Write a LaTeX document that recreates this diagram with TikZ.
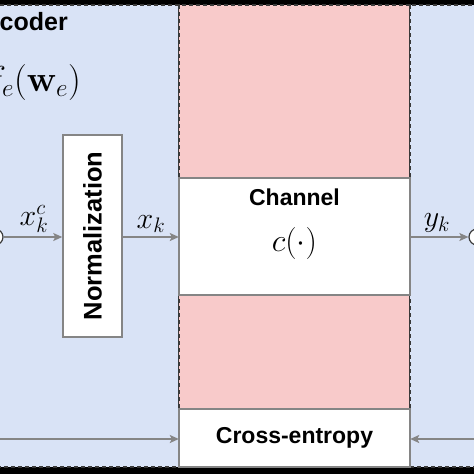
\RequirePackage{fix-cm}
\documentclass[tikz,border=0pt]{standalone}
\usepackage[no-math]{fontspec}
\setmainfont{Liberation Sans}
\usetikzlibrary{arrows.meta}
\definecolor{bluebg}{HTML}{D9E3F6}
\definecolor{pinkbg}{HTML}{F8CACA}
\definecolor{edgegray}{HTML}{858585}
\definecolor{dashcol}{HTML}{3A3A3A}
\tikzset{
  panel/.style={draw=dashcol, dashed, dash pattern=on 4pt off 3pt, line width=1.2pt},
  block/.style={draw=edgegray, line width=1.5pt, fill=white},
  flow/.style={draw=edgegray, line width=1.5pt, -{Stealth[length=9pt,width=8pt,inset=2pt]}},
  title/.style={font=\bfseries\fontsize{23}{27}\selectfont},
  mathlbl/.style={font=\fontsize{30}{34}\selectfont, inner sep=0pt},
  port/.style={circle, draw=dashcol, line width=1.2pt, fill=white, minimum size=16pt, inner sep=0pt}
}
\begin{document}
\begin{tikzpicture}[x=1pt,y=-1pt]
\useasboundingbox (0,0) rectangle (474,474);
\clip (0,0) rectangle (474,474);
\fill[black] (0,0) rectangle (474,474);
% panels
\path[panel, fill=bluebg] (-10,5) rectangle (179,467);
\path[panel, fill=pinkbg] (179,5) rectangle (410,467);
\path[panel, fill=bluebg] (410,5) rectangle (490,467);
% titles
\node[anchor=base east, inner sep=0pt, font=\bfseries\fontsize{25}{29}\selectfont] (enc) at (68,30) {Encoder};
\node[anchor=base east, inner sep=0pt, font=\fontsize{36}{40}\selectfont] (encf) at (81,91) {$f_e\!\left(\mathbf{w}_e\right)$};
% blocks
\path[block] (179,178) rectangle (410,295);
\node (chan) at (294.5,236.5) [minimum width=231pt, minimum height=117pt, inner sep=0pt] {};
\node[title] (chant) at (294.5,197) {Channel};
\node[mathlbl, font=\fontsize{32}{36}\selectfont] (chanf) at (294.5,243) {$c(\cdot)$};
\path[block] (179,409) rectangle (410,467);
\node (ce) at (294.5,438) [minimum width=231pt, minimum height=58pt, inner sep=0pt] {};
\node[title] (cet) at (294.5,438) {Cross-entropy};
\node[block, minimum width=59pt, minimum height=202pt, inner sep=0pt] (norm) at (92.5,236) {};
\node[rotate=90, font=\bfseries\fontsize{25.5}{29}\selectfont] (normt) at (92.5,236) {Normalization};
% ports
\node[port] (inport) at (-5,237) {};
\node[port] (outport) at (477,237) {};
\coordinate (lossL) at (0,439);
\coordinate (lossR) at (474,439);
% connectors
\draw[flow] (inport.east) -- (norm.west |- inport.east);
\draw[flow] (norm.east |- inport.east) -- (chan.west |- inport.east);
\draw[flow] (chan.east |- outport.west) -- (outport.west);
\draw[flow] (lossL) -- (ce.west |- lossL);
\draw[flow] (lossR) -- (ce.east |- lossR);
% labels
\node[mathlbl] (lxc) at (34,219) {$x_k^c$};
\node[mathlbl] (lx) at (151,224) {$x_k$};
\node[mathlbl] (ly) at (437,223) {$y_k$};
\end{tikzpicture}
\end{document}
